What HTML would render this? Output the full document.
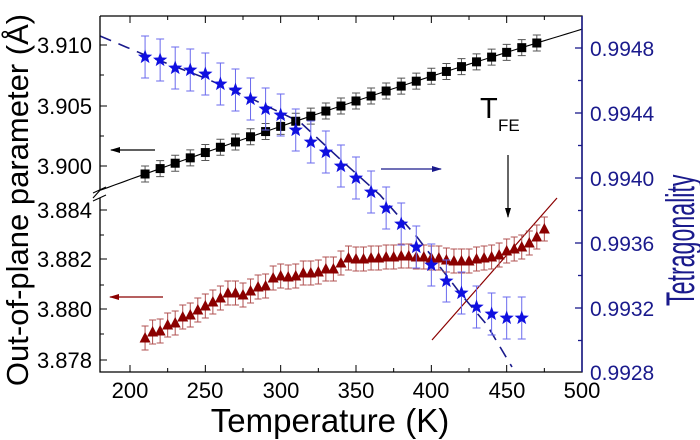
<!DOCTYPE html>
<html><head><meta charset="utf-8"><style>
html,body{margin:0;padding:0;background:#fff;}
svg{display:block;font-family:"Liberation Sans",Arial,sans-serif;}
</style></head><body>
<svg id="s" width="700" height="440" viewBox="0 0 700 440" xmlns="http://www.w3.org/2000/svg">
<defs>
<marker id="ak" markerWidth="10" markerHeight="8" refX="9" refY="4" orient="auto" markerUnits="userSpaceOnUse"><path d="M0,1 L10,4 L0,7 Z" fill="#000"/></marker>
<marker id="ar" markerWidth="10" markerHeight="8" refX="9" refY="4" orient="auto" markerUnits="userSpaceOnUse"><path d="M0,1 L10,4 L0,7 Z" fill="#8b0000"/></marker>
<marker id="ab" markerWidth="10" markerHeight="8" refX="9" refY="4" orient="auto" markerUnits="userSpaceOnUse"><path d="M0,1 L10,4 L0,7 Z" fill="#1a1a8c"/></marker>
</defs>
<g id="g"></g>
<path d="M100,16 L582,16 L582,372 L100,372 L100,198 M100,190 L100,16" fill="none" stroke="#000" stroke-width="1.3"/>
<line x1="582" y1="16" x2="582" y2="372" stroke="#1a1a8c" stroke-width="1.5"/>
<line x1="93" y1="193" x2="106" y2="187" stroke="#000" stroke-width="1"/>
<line x1="93" y1="201" x2="106" y2="195" stroke="#000" stroke-width="1"/>
<line x1="155" y1="150" x2="111" y2="150" stroke="#000" stroke-width="1.2" marker-end="url(#ak)"/>
<line x1="163" y1="297" x2="110" y2="297" stroke="#8b0000" stroke-width="1.2" marker-end="url(#ar)"/>
<line x1="381" y1="169" x2="441" y2="169" stroke="#1a1a8c" stroke-width="1.2" marker-end="url(#ab)"/>
<line x1="508" y1="155" x2="508" y2="217" stroke="#000" stroke-width="1.2" marker-end="url(#ak)"/>
<text x="480" y="118" font-size="29">T</text>
<text x="498" y="131" font-size="17">FE</text>
<g font-size="22" text-anchor="end" fill="#000">
<text x="92" y="53">3.910</text><text x="92" y="114">3.905</text><text x="92" y="174">3.900</text>
<text x="92" y="218">3.884</text><text x="92" y="267">3.882</text><text x="92" y="317">3.880</text><text x="92" y="368">3.878</text>
</g>
<g font-size="21" fill="#1a1a8c">
<text x="590" y="56">0.9948</text><text x="590" y="121">0.9944</text><text x="590" y="186">0.9940</text>
<text x="590" y="251">0.9936</text><text x="590" y="316">0.9932</text><text x="590" y="380">0.9928</text>
</g>
<g font-size="22" text-anchor="middle">
<text x="130" y="398">200</text><text x="205" y="398">250</text><text x="281" y="398">300</text><text x="356" y="398">350</text><text x="431" y="398">400</text><text x="507" y="398">450</text><text x="582" y="398">500</text>
</g>
<text x="330" y="432" font-size="33" text-anchor="middle">Temperature (K)</text>
<text transform="translate(28,200) rotate(-90)" font-size="31" text-anchor="middle">Out-of-plane parameter (Å)</text>
<g transform="translate(694,306) rotate(-90) scale(0.58,1)"><text x="0" y="0" font-size="40" fill="#1a1a8c">Tetragonality</text></g>
</svg>
<script>
var g=document.getElementById('g'),h='';
function X(T){return 130+(T-200)*1.5067;}
function BY(T){var t=(T-210)/260;return 174-131*t-10*t*(1-t);}
for(var T=200;T<=500;T+=25){var L=T%50==0?7:4,x=X(T);h+='<line x1="'+x+'" y1="372" x2="'+x+'" y2="'+(372-L)+'" stroke="#000"/><line x1="'+x+'" y1="16" x2="'+x+'" y2="'+(16+L)+'" stroke="#000"/>';}
[45,106,166].forEach(function(y){h+='<line x1="100" y1="'+y+'" x2="107" y2="'+y+'" stroke="#000"/>';});
[75,136].forEach(function(y){h+='<line x1="100" y1="'+y+'" x2="104" y2="'+y+'" stroke="#000"/>';});
[210,259,309,360].forEach(function(y){h+='<line x1="100" y1="'+y+'" x2="107" y2="'+y+'" stroke="#000"/>';});
[235,285,334].forEach(function(y){h+='<line x1="100" y1="'+y+'" x2="104" y2="'+y+'" stroke="#000"/>';});
for(var i=0;i<=11;i++){var y=48+i*32.5;if(y>372)break;var L=i%2==0?7:4;h+='<line x1="582" y1="'+y+'" x2="'+(582-L)+'" y2="'+y+'" stroke="#1a1a8c" stroke-width="1.3"/>';}
var p='M93,198';for(var T=180;T<=500;T+=5){p+=' L'+X(T).toFixed(1)+','+BY(T).toFixed(1);}
h+='<path d="'+p+'" fill="none" stroke="#000" stroke-width="1.1"/>';
h+='<line x1="432" y1="340" x2="557" y2="198" stroke="#8b0000" stroke-width="1.2"/>';
h+='<path d="M100,36 L145,55 L205,78 L250,98 L300,122 L341,160 L380,195 L417,237 L460,293 L487,325 L512,367" fill="none" stroke="#1a1a8c" stroke-width="1.6" stroke-dasharray="12,8"/>';
var ry=[338,332,331,325,323,317,315,310,306,302,298,293,293,295,291,287,286,278,276,277,276,273,273,272,269,269,263,258,259,259,258,258,257,257,256,256,257,257,258,258,260,261,261,261,259,258,257,255,251,249,247,243,237,229,213,213];
for(var i=0;i<ry.length;i++){var T=210+i*5;if(T>475)break;var x=X(T),y=ry[i];
h+='<path d="M'+x+','+(y-12)+'V'+(y+12)+'M'+(x-3.5)+','+(y-12)+'h7M'+(x-3.5)+','+(y+12)+'h7" stroke="#b05050" stroke-width="1"/>';
h+='<path d="M'+(x-5.5)+','+(y+4.5)+'L'+x+','+(y-6)+'L'+(x+5.5)+','+(y+4.5)+'Z" fill="#8b0000"/>';}
for(var T=210;T<=470;T+=10){var x=X(T);var y=BY(T);
h+='<path d="M'+x+','+(y-8)+'V'+(y+8)+'M'+(x-4)+','+(y-8)+'h8M'+(x-4)+','+(y+8)+'h8" stroke="#555" stroke-width="1"/>';
h+='<rect x="'+(x-4.5)+'" y="'+(y-4.5)+'" width="9" height="9" fill="#000"/>';}
var sy=[57,60,68,70,74,84,90,99,109,115,130,142,152,166,178,192,208,224,247,265,281,293,307,314,318,318];
function star(cx,cy,r){var p='';for(var k=0;k<10;k++){var a=-Math.PI/2+k*Math.PI/5,rr=k%2?r*0.42:r;p+=(k?'L':'M')+(cx+rr*Math.cos(a)).toFixed(1)+','+(cy+rr*Math.sin(a)).toFixed(1);}return p+'Z';}
for(var i=0;i<sy.length;i++){var x=X(210+i*10),y=sy[i];
h+='<path d="M'+x+','+(y-21)+'V'+(y+21)+'M'+(x-4)+','+(y-21)+'h8M'+(x-4)+','+(y+21)+'h8" stroke="#6a6aee" stroke-width="1"/>';
h+='<path d="'+star(x,y,7.5)+'" fill="#1010e0"/>';}
g.innerHTML=h;
</script>
</body></html>
